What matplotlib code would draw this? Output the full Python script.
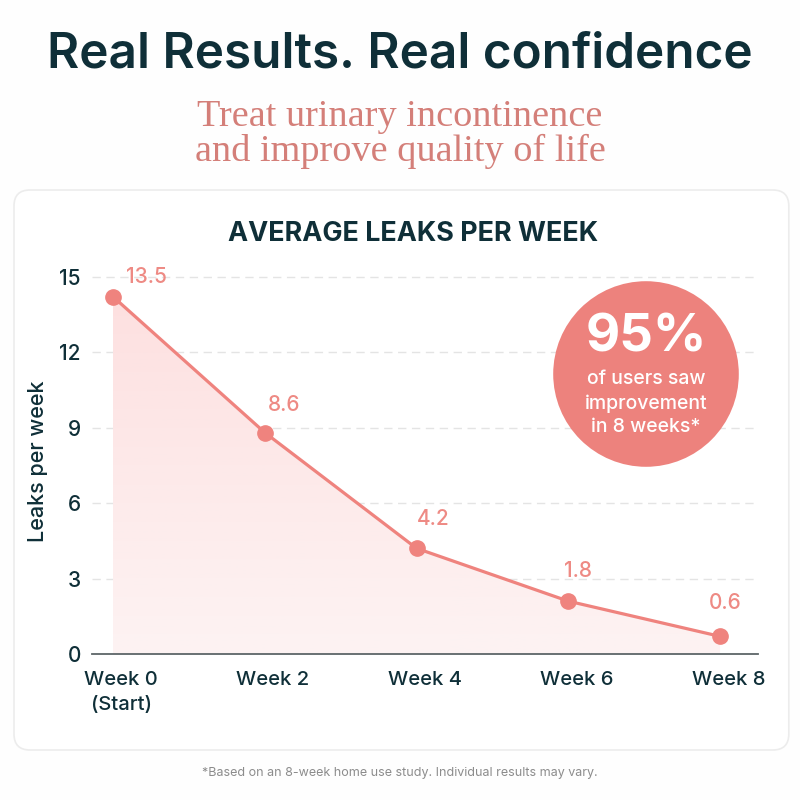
import matplotlib
matplotlib.use("Agg")
import matplotlib.pyplot as plt
import matplotlib.transforms as mtransforms
import numpy as np
from matplotlib.patches import FancyBboxPatch, Circle, Polygon
from matplotlib.colors import LinearSegmentedColormap

# --- Data ---------------------------------------------------------------
weeks = [0, 2, 4, 6, 8]
week_labels = ["Week 0\n(Start)", "Week 2", "Week 4", "Week 6", "Week 8"]
leaks_plotted = [14.2, 8.8, 4.2, 2.1, 0.7]      # where the dots sit
leak_labels = ["13.5", "8.6", "4.2", "1.8", "0.6"]  # printed values
y_ticks = [0, 3, 6, 9, 12, 15]
# label offsets in points (dx, dy) from each dot
label_offsets = [(24, 14), (14, 20), (12, 21), (7, 22), (4, 24)]

# --- Styling --------------------------------------------------------------
DARK = "#0f2f38"
CORAL = "#ef837e"
CORAL_TEXT = "#ee8a84"
SUB_COLOR = "#d47f79"
GRID = "#e4e4e4"
FONT = "Inter"

fig = plt.figure(figsize=(8, 8), dpi=100)
fig.patch.set_facecolor("#fefefe")

# headline + subtitle
fig.text(0.5, 0.932, "Real Results. Real confidence", ha="center", va="center",
         fontsize=35.6, fontweight="semibold", color=DARK, family=FONT)
fig.text(0.5, 0.832, "Treat urinary incontinence\nand improve quality of life",
         ha="center", va="center", fontsize=27.5, color=SUB_COLOR,
         family="Liberation Serif", linespacing=0.98)

# card
card = FancyBboxPatch((0.0175 + 0.02, 0.0625 + 0.02), 0.9685 - 0.04, 0.70 - 0.04,
                      boxstyle="round,pad=0.02", transform=fig.transFigure,
                      facecolor="white", edgecolor="#ececec", linewidth=1.2,
                      zorder=0)
fig.patches.append(card)

fig.text(0.516, 0.708, "AVERAGE LEAKS PER WEEK", ha="center", va="center",
         fontsize=19.4, fontweight="bold", color=DARK, family=FONT)

# --- Axes -----------------------------------------------------------------
ax = fig.add_axes([0.115, 0.1825, 0.8325, 0.48125])
ax.set_zorder(2)
ax.set_xlim(-0.277, 8.5)
ax.set_ylim(0, 15.3)
ax.patch.set_alpha(0)

# gradient fill under the line
xs = np.array(weeks, dtype=float)
ys = np.array(leaks_plotted)
verts = [(xs[0], 0)] + list(zip(xs, ys)) + [(xs[-1], 0)]
poly = Polygon(verts, closed=True, facecolor="none", edgecolor="none")
ax.add_patch(poly)
cmap = LinearSegmentedColormap.from_list("pinkfade", ["#fdf3f3", "#fde0e0"])
grad = np.linspace(0, 1, 256).reshape(-1, 1)
im = ax.imshow(grad, aspect="auto", cmap=cmap, origin="lower",
               extent=[xs[0], xs[-1], 0, max(ys)], zorder=1)
im.set_clip_path(poly)

for t in y_ticks[1:]:
    ax.axhline(t, color=GRID, linewidth=1, linestyle=(0, (6, 4)), zorder=0.5)

ax.plot(xs, ys, color=CORAL, linewidth=2.3, zorder=3,
        marker="o", markersize=11, markerfacecolor=CORAL, markeredgecolor=CORAL)

for x, y, lab, (dx, dy) in zip(xs, ys, leak_labels, label_offsets):
    ax.annotate(lab, (x, y), xytext=(dx, dy), textcoords="offset points",
                ha="center", va="center", fontsize=15, color=CORAL_TEXT,
                family=FONT, fontweight="medium", zorder=4)

for s in ["top", "right", "left"]:
    ax.spines[s].set_visible(False)
ax.spines["bottom"].set_color("#5d6668")
ax.spines["bottom"].set_linewidth(1.3)

ax.set_yticks(y_ticks)
ax.set_yticklabels([str(t) for t in y_ticks])
ax.set_xticks(weeks)
ax.set_xticklabels(week_labels)
ax.tick_params(axis="y", length=0, pad=8, labelsize=15, labelcolor=DARK)
ax.tick_params(axis="x", length=0, pad=12, labelsize=14.5, labelcolor=DARK)
shift = mtransforms.ScaledTranslation(6 / 72, 0, fig.dpi_scale_trans)
for lbl in ax.get_xticklabels():
    lbl.set_transform(lbl.get_transform() + shift)
for lbl in ax.get_xticklabels() + ax.get_yticklabels():
    lbl.set_family(FONT)
    lbl.set_fontweight("medium")
ax.get_xticklabels()[0].set_linespacing(1.5)

ax.set_ylabel("Leaks per week", fontsize=15.5, color=DARK, family=FONT,
              fontweight="medium", labelpad=8)

# --- 95% badge -------------------------------------------------------------
badge = Circle((0.8075, 0.5325), 0.116, transform=fig.transFigure,
               facecolor="#ed827d", edgecolor="none", zorder=5)
fig.patches.append(badge)
fig.text(0.8075, 0.577, "95%", ha="center", va="center", fontsize=38,
         fontweight="bold", color="white", family=FONT, zorder=6)
fig.text(0.8075, 0.496, "of users saw\nimprovement\nin 8 weeks*", ha="center",
         va="center", fontsize=14, color="white", family=FONT,
         fontweight="medium", linespacing=1.4, zorder=6)

# footnote
fig.text(0.5, 0.034,
         "*Based on an 8-week home use study. Individual results may vary.",
         ha="center", va="center", fontsize=9, color="#8c8c8c", family=FONT)

fig.savefig("out.png", dpi=100, facecolor=fig.get_facecolor())
